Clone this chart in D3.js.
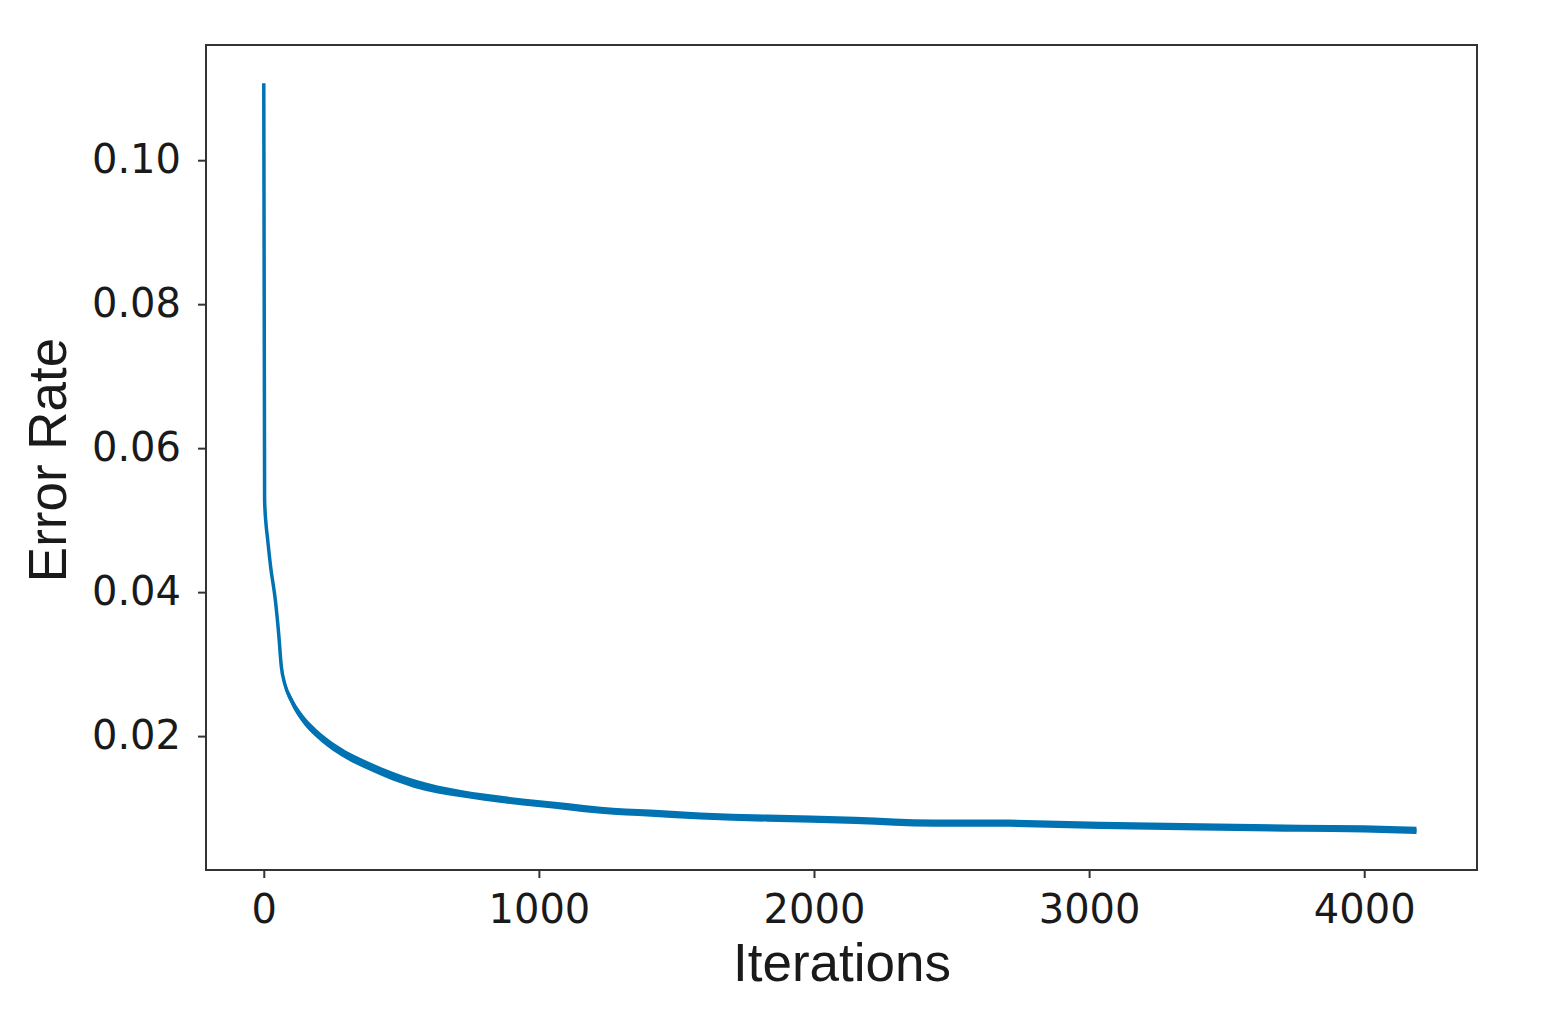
<!DOCTYPE html>
<html>
<head>
<meta charset="utf-8">
<title>Error Rate</title>
<script src="https://cdn.jsdelivr.net/npm/d3@7"></script>
<style>
  body { margin: 0; background: #fff; }
  #chart { width: 1548px; height: 1023px; }
</style>
</head>
<body>
<div id="chart"></div>
<script>
// values
var iterations = [0, 3, 8, 13, 25, 42, 54, 64, 76, 100, 136, 191, 269, 390, 547, 717, 886, 1104, 1225, 1407, 1588, 1831, 2150, 2434, 2677, 3040, 3403, 3766, 4000, 4190];
var errorRate  = [0.1107, 0.0528, 0.0495, 0.0477, 0.0435, 0.0389, 0.0343, 0.0296, 0.0273, 0.0250, 0.0227, 0.0204, 0.0181, 0.0157, 0.0134, 0.0120, 0.0111, 0.0102, 0.0097, 0.0093, 0.0089, 0.0086, 0.0083, 0.0079, 0.0079, 0.0076, 0.0074, 0.0072, 0.0071, 0.0069];
// half height of the noisy band around the curve
var noiseBand  = [0, 0, 0.0001, 0.0002, 0.0003, 0.0004, 0.0005, 0.0006, 0.0006, 0.0006, 0.0006, 0.0006, 0.0006, 0.0006, 0.0006, 0.0005, 0.0005, 0.0005, 0.0005, 0.0005, 0.0005, 0.0005, 0.0005, 0.0005, 0.0005, 0.0005, 0.0005, 0.0005, 0.0005, 0.0005];
var xTicks = [0, 1000, 2000, 3000, 4000];
var yTicks = [0.02, 0.04, 0.06, 0.08, 0.10];

// plot box (window.top is taken, so no "top" here)
var boxLeft = 206, boxRight = 1477, boxTop = 45, boxBottom = 870;
var lineColor = "#0173b2";

var points = iterations.map(function(d, i) {
  return { it: d, err: errorRate[i], band: noiseBand[i] };
});

var x = d3.scaleLinear().domain([-210, 4410]).range([boxLeft, boxRight]);
var y = d3.scaleLinear().domain([0.0014, 0.1160]).range([boxBottom, boxTop]);

var svg = d3.select("#chart").append("svg")
    .attr("width", 1548)
    .attr("height", 1023);

// noisy band
var band = d3.area()
    .x(function(d) { return x(d.it); })
    .y0(function(d) { return y(d.err - d.band); })
    .y1(function(d) { return y(d.err + d.band); })
    .curve(d3.curveMonotoneX);

svg.append("path")
    .datum(points)
    .attr("d", band)
    .style("fill", lineColor);

var line = d3.line()
    .x(function(d) { return x(d.it); })
    .y(function(d) { return y(d.err); })
    .curve(d3.curveMonotoneX);

svg.append("path")
    .datum(points)
    .attr("d", line)
    .style("fill", "none")
    .style("stroke", lineColor)
    .style("stroke-width", 3.5)
    .style("stroke-linejoin", "round");

// axes
var xAxis = svg.append("g")
    .attr("transform", "translate(0," + boxBottom + ")")
    .call(d3.axisBottom(x).tickValues(xTicks).tickSize(8).tickPadding(17).tickFormat(d3.format("d")));

var yAxis = svg.append("g")
    .attr("transform", "translate(" + boxLeft + ",0)")
    .call(d3.axisLeft(y).tickValues(yTicks).tickSize(8).tickPadding(17).tickFormat(d3.format(".2f")));

[xAxis, yAxis].forEach(function(a) {
  a.select(".domain").remove();
  a.selectAll("line").style("stroke", "#333").style("stroke-width", 2);
  a.selectAll("text")
    .style("font-family", "'DejaVu Sans', sans-serif")
    .style("font-size", "40px")
    .style("fill", "#1a1a1a");
});

// frame
svg.append("rect")
    .attr("x", boxLeft)
    .attr("y", boxTop)
    .attr("width", boxRight - boxLeft)
    .attr("height", boxBottom - boxTop)
    .style("fill", "none")
    .style("stroke", "#333")
    .style("stroke-width", 2);

svg.append("text")
    .text("Iterations")
    .attr("x", 842)
    .attr("y", 981)
    .attr("text-anchor", "middle")
    .style("font-family", "'Liberation Sans', Arial, sans-serif")
    .style("font-size", "53px")
    .style("fill", "#1a1a1a");

svg.append("text")
    .text("Error Rate")
    .attr("transform", "translate(66,460) rotate(-90)")
    .attr("text-anchor", "middle")
    .style("font-family", "'Liberation Sans', Arial, sans-serif")
    .style("font-size", "53px")
    .style("fill", "#1a1a1a");
</script>
</body>
</html>
